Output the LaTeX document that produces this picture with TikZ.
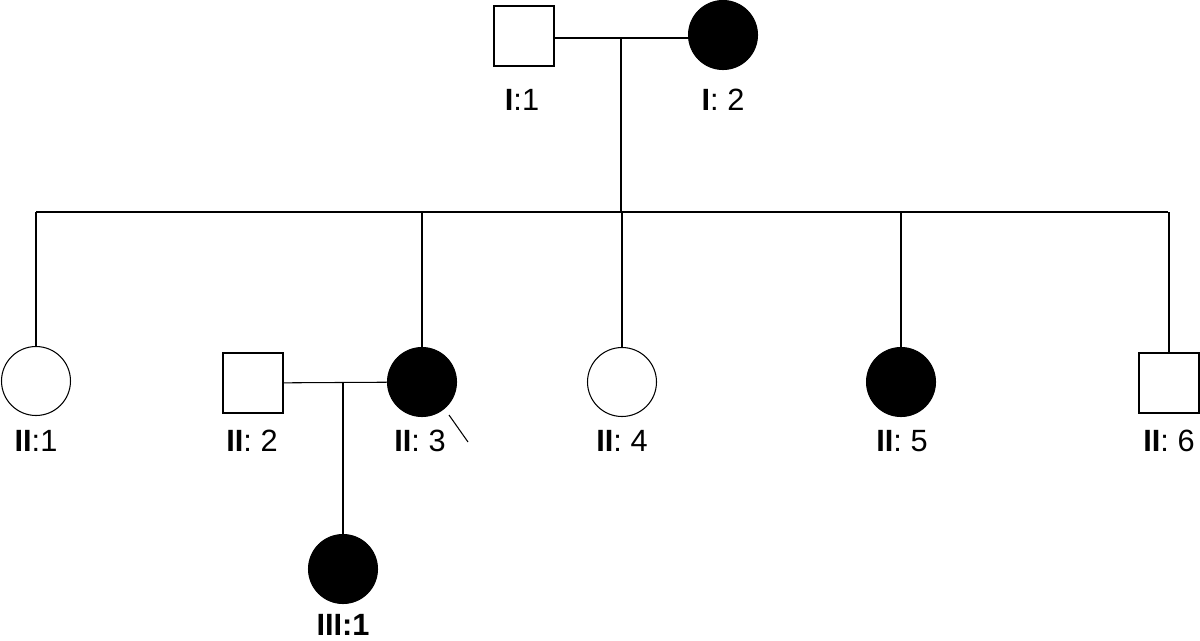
\documentclass[tikz,border=0pt]{standalone}
\usepackage{fontspec}
\setmainfont{Liberation Sans}
\usepackage{tikz}
\usetikzlibrary{calc}

\begin{document}
\begin{tikzpicture}[x=0.02cm, y=-0.02cm, line width=0.6pt,
    male/.style={draw, rectangle, minimum size=1.2cm, inner sep=0pt},
    female/.style={draw, circle, minimum size=1.38cm, inner sep=0pt},
    affected/.style={fill=black},
    lab/.style={inner sep=0pt, font=\fontsize{17.5}{20}\selectfont}]
    % Frame
    \useasboundingbox (0,0) rectangle (1200,640);

    % Generation I
    \node[male] (I1) at (524,36) {};
    \node[female, affected] (I2) at (723,35) {};
    \node[lab] (lI1) at (522,100) {\textbf{I}:1};
    \node[lab] (lI2) at (723,100) {\textbf{I}: 2};

    % Generation II
    \node[female] (II1) at (36,381) {};
    \node[male] (II2) at (253,383) {};
    \node[female, affected] (II3) at (422,382) {};
    \node[female] (II4) at (622,382) {};
    \node[female, affected] (II5) at (901,382) {};
    \node[male] (II6) at (1169,383) {};
    \node[lab] (lII1) at (36,441) {\textbf{II}:1};
    \node[lab] (lII2) at (252,441) {\textbf{II}: 2};
    \node[lab] (lII3) at (420,441) {\textbf{II}: 3};
    \node[lab] (lII4) at (622,441) {\textbf{II}: 4};
    \node[lab] (lII5) at (902,441) {\textbf{II}: 5};
    \node[lab] (lII6) at (1169,441) {\textbf{II}: 6};

    % Generation III
    \node[female, affected] (III1) at (343,569) {};
    \node[lab] (lIII1) at (343,625) {\textbf{III:1}};

    % Marriage and descent I
    \coordinate (m1) at (621,38);
    \draw (I1.east |- m1) -- (I2.west |- m1);
    \coordinate (sibL) at (36,212);
    \coordinate (sibR) at (1168,212);
    \draw (m1) -- (m1 |- sibL);
    \draw (sibL) -- (sibR);
    \foreach \n in {II1,II3,II4,II5,II6}
        \draw (\n |- sibL) -- (\n);

    % Marriage and descent II
    \coordinate (m2) at (343,383);
    \draw (II2) -- (II3);
    \draw (m2) -- (III1);

    % Proband mark
    \draw ($(II3)+(27,33)$) -- ($(II3)+(46,60)$);
\end{tikzpicture}
\end{document}
